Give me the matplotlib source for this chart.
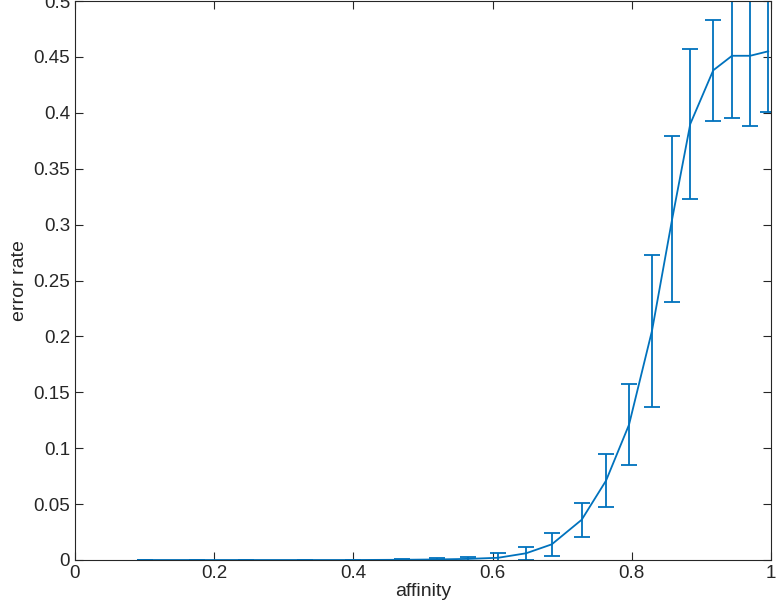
import matplotlib
matplotlib.use("Agg")
import matplotlib.pyplot as plt

affinity = [0.10, 0.175, 0.245, 0.33, 0.40, 0.47, 0.52, 0.565, 0.608, 0.648, 0.685, 0.728, 0.763, 0.796, 0.829, 0.858, 0.884, 0.917, 0.944, 0.970, 0.996]
error_rate = [0, 0, 0, 0, 0, 0.0002, 0.0005, 0.001, 0.002, 0.006, 0.014, 0.036, 0.071, 0.121, 0.205, 0.305, 0.390, 0.438, 0.451, 0.451, 0.455]
err = [0, 0, 0, 0, 0, 0.0005, 0.0015, 0.002, 0.004, 0.006, 0.010, 0.015, 0.024, 0.036, 0.068, 0.074, 0.067, 0.045, 0.056, 0.063, 0.054]

plt.rcParams['font.family'] = ['Liberation Sans', 'DejaVu Sans']
fig = plt.figure(figsize=(7.8, 6.13), dpi=100)
ax = fig.add_axes([75/780, 53/613, 696/780, 559/613])
c = '#0072BD'
ax.errorbar(affinity, error_rate, yerr=err, color=c, lw=1.3, elinewidth=1.3, capsize=6, capthick=1.3)
ax.set_xlim(0, 1)
ax.set_ylim(0, 0.5)
ax.set_xticks([0, 0.2, 0.4, 0.6, 0.8, 1])
ax.set_xticklabels(['0', '0.2', '0.4', '0.6', '0.8', '1'])
ax.set_yticks([i * 0.05 for i in range(11)])
ax.set_yticklabels(['0', '0.05', '0.1', '0.15', '0.2', '0.25', '0.3', '0.35', '0.4', '0.45', '0.5'])
ax.tick_params(direction='in', labelsize=13.5, top=True, right=True, length=6, colors='#262626')
for s in ax.spines.values():
    s.set_color('#262626')
ax.set_xlabel('affinity', fontsize=14, labelpad=1, color='#262626')
ax.set_ylabel('error rate', fontsize=14, labelpad=4, color='#262626')
fig.savefig('out.png', dpi=100)
